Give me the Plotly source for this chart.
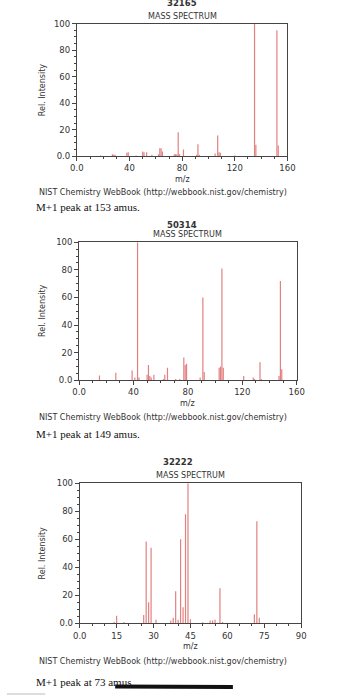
import plotly.graph_objects as go

W, H = 350, 700

# ---------------- data ----------------
titles = ["32165", "50314", "32222"]
notes = ["M+1 peak at 153 amus.", "M+1 peak at 149 amus.", "M+1 peak at 73 amus"]

mz1 = [18, 27, 28, 29, 38, 39, 45, 50, 51, 53, 57, 62, 63, 64, 65, 74, 75, 76, 77, 78, 81,
       91, 92, 93, 105, 107, 108, 109, 120, 135, 136, 152, 153]
int1 = [0.5, 1.5, 1.0, 1.0, 2.5, 3.0, 0.5, 3.5, 3.0, 3.0, 1.0, 1.5, 6.0, 6.0, 3.5, 1.5, 1.5, 1.5, 18, 1.5, 5,
        1.0, 9, 1.0, 2.0, 15.5, 3.0, 2.5, 0.5, 100, 8.5, 95, 8]

mz2 = [15, 27, 39, 41, 43, 44, 50, 51, 52, 53, 55, 62, 63, 65, 71, 74, 77, 78, 79, 89, 91, 92,
       103, 104, 105, 106, 121, 128, 129, 133, 134, 147, 148, 149]
int2 = [3.5, 5.5, 7, 2, 100, 2, 4, 11, 3, 2, 4, 1, 4, 9, 1, 1, 16.5, 11, 12, 2, 60, 6,
        9, 10, 81, 9, 3, 2, 1, 13, 1, 3, 72, 8]

mz3 = [14, 15, 18, 26, 27, 28, 29, 31, 37, 38, 39, 40, 41, 42, 43, 44, 45, 50, 53, 54, 55, 56,
       57, 58, 60, 71, 72, 73]
int3 = [1, 5.5, 1, 6, 58.5, 15, 54, 2.5, 2, 4, 23, 2.5, 60, 11.5, 78, 100, 3, 0.8, 2, 2, 2.5, 0.5,
        25, 1, 0.5, 6.5, 73, 4]

x_ranges = [[0, 160], [0, 160], [0, 90]]
x_tickvals = [[0, 40, 80, 120, 160], [0, 40, 80, 120, 160], [0, 15, 30, 45, 60, 75, 90]]
x_ticktext = [["0.0", "40", "80", "120", "160"], ["0.0", "40", "80", "120", "160"],
              ["0.0", "15", "30", "45", "60", "75", "90"]]
x_minor = [10, 10, 5]
y_tickvals = [0, 20, 40, 60, 80, 100]
y_ticktext = ["0.0", "20", "40", "60", "80", "100"]

# plot areas in pixels: (left, right, top, bottom)
boxes = [(73, 293, 19, 153.3), (75.3, 302.7, 240.7, 380.7), (76, 307.3, 485.3, 627.3)]

def px(x):
    return x / W

def py(y):
    return 1 - y / H

BAR = "#e28080"
AX = "#444444"
TXT = "#333333"
SANS = "DejaVu Sans"
SERIF = "Liberation Serif"

fig = go.Figure()
series = [(mz1, int1), (mz2, int2), (mz3, int3)]
layout = {}
for i, ((mz, it), box) in enumerate(zip(series, boxes)):
    k = "" if i == 0 else str(i + 1)
    xs, ys = [], []
    for m, v in zip(mz, it):
        xs += [m, m, None]
        ys += [0, v, None]
    fig.add_trace(go.Scatter(x=xs, y=ys, mode="lines", line=dict(color=BAR, width=1.2),
                             xaxis="x" + k, yaxis="y" + k, showlegend=False, hoverinfo="skip"))
    l, r, t, b = box
    layout["xaxis" + k] = dict(domain=[px(l), px(r)], range=x_ranges[i], anchor="y" + k,
                               tickvals=x_tickvals[i], ticktext=x_ticktext[i], ticks="outside",
                               ticklen=4, tickcolor=AX, showline=True, linecolor=AX, linewidth=1,
                               mirror=True, showgrid=False, zeroline=False,
                               tickfont=dict(family=SANS, size=8.5, color=TXT),
                               minor=dict(ticks="outside", dtick=x_minor[i], ticklen=2, tickcolor=AX))
    layout["yaxis" + k] = dict(domain=[py(b), py(t)], range=[0, 100], anchor="x" + k,
                               tickvals=y_tickvals, ticktext=y_ticktext, ticks="outside",
                               ticklen=4, tickcolor=AX, showline=True, linecolor=AX, linewidth=1,
                               mirror=True, showgrid=False, zeroline=False,
                               tickfont=dict(family=SANS, size=8.5, color=TXT),
                               minor=dict(ticks="outside", dtick=5, ticklen=2, tickcolor=AX))

fig.update_layout(**layout)

ann = []
def text(x, y, s, size=8, family=SANS, color=TXT, xanchor="center", angle=0):
    ann.append(dict(x=px(x), y=py(y), xref="paper", yref="paper", text=s, showarrow=False,
                    xanchor=xanchor, yanchor="middle", textangle=angle,
                    font=dict(family=family, size=size, color=color)))

# per-chart text positions (pixels)
title_pos = [(182.5, -2.5), (183.3, 222.7), (179, 463.3)]
sub_pos = [(183.3, 12), (189, 233.3), (191.5, 477.3)]
ylab_pos = [(37, 86), (37, 310), (37, 556)]
mz_pos = [(183, 177), (189, 404), (191.7, 651)]
nist_y = [190, 418.3, 666]
note_y = [205, 435, 687.3]

for i in range(3):
    text(*title_pos[i], "<b>" + titles[i] + "</b>", size=8.5)
    text(*sub_pos[i], "MASS SPECTRUM", size=8)
    text(*ylab_pos[i], "Rel. Intensity", size=8, angle=-90)
    text(*mz_pos[i], "m/z", size=8)
    text(31, nist_y[i], "NIST Chemistry WebBook (http://webbook.nist.gov/chemistry)", size=8,
         xanchor="left")
    text(28, note_y[i], notes[i], size=11, family=SERIF, color="#111111", xanchor="left")

shapes = [
    dict(type="line", xref="paper", yref="paper", x0=px(113), x1=px(236), y0=py(691.5), y1=py(692),
         line=dict(color="#111111", width=4)),
    dict(type="line", xref="paper", yref="paper", x0=px(0), x1=px(40), y0=py(699), y1=py(699),
         line=dict(color="#bbbbbb", width=1)),
]

fig.update_layout(width=W, height=H, margin=dict(l=0, r=0, t=0, b=0), paper_bgcolor="white",
                  plot_bgcolor="white", annotations=ann, shapes=shapes, showlegend=False)

fig.write_html("out.html")
